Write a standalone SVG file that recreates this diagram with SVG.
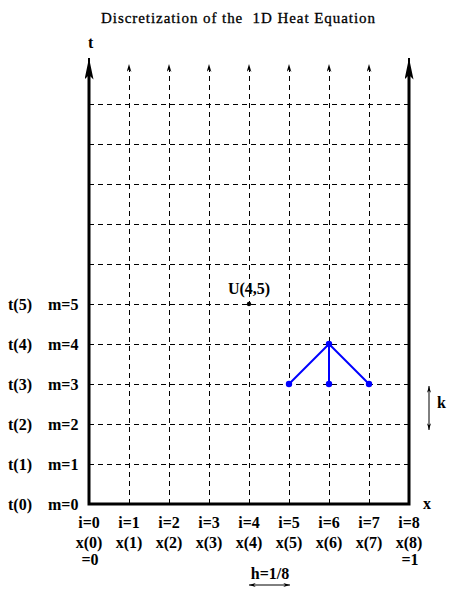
<svg xmlns="http://www.w3.org/2000/svg" width="461" height="601" viewBox="0 0 461 601">
<defs>
<style>
text{font-family:"Liberation Serif","Times New Roman",serif;font-weight:bold;font-size:16px;fill:#000}
.dash{stroke:#000;stroke-width:1;stroke-dasharray:5 4;fill:none;shape-rendering:crispEdges}
.axis{stroke:#000;stroke-width:3;fill:none}
.blue{stroke:#0000ff;stroke-width:2;fill:none}
.thin{stroke:#000;stroke-width:1;fill:none}
</style>
<marker id="big" viewBox="0 0 24 10" refX="24" refY="5" markerWidth="22" markerHeight="9" orient="auto" markerUnits="userSpaceOnUse">
<path d="M0,0 L24,5 L0,10 L5,5 Z" fill="#000"/>
</marker>
<marker id="small" viewBox="0 0 10 6" refX="10" refY="3" markerWidth="8" markerHeight="5" orient="auto" markerUnits="userSpaceOnUse">
<path d="M0,0 L10,3 L0,6 L3,3 Z" fill="#000"/>
</marker>
<marker id="tiny" viewBox="0 0 10 6" refX="10" refY="3" markerWidth="7" markerHeight="4" orient="auto" markerUnits="userSpaceOnUse">
<path d="M0,0 L10,3 L0,6 L3,3 Z" fill="#000"/>
</marker>
</defs>
<rect width="461" height="601" fill="#fff"/>
<text x="238" y="23" text-anchor="middle" xml:space="preserve" style="font-weight:normal;font-size:15px;stroke:#000;stroke-width:0.3" textLength="274">Discretization of the  1D Heat Equation</text>
<g id="connectors">
<g id="grid-h">
<line class="dash" x1="89" y1="464" x2="409" y2="464"/>
<line class="dash" x1="89" y1="424" x2="409" y2="424"/>
<line class="dash" x1="89" y1="384" x2="409" y2="384"/>
<line class="dash" x1="89" y1="344" x2="409" y2="344"/>
<line class="dash" x1="89" y1="304" x2="409" y2="304"/>
<line class="dash" x1="89" y1="264" x2="409" y2="264"/>
<line class="dash" x1="89" y1="224" x2="409" y2="224"/>
<line class="dash" x1="89" y1="184" x2="409" y2="184"/>
<line class="dash" x1="89" y1="144" x2="409" y2="144"/>
<line class="dash" x1="89" y1="104" x2="409" y2="104"/>
</g>
<g id="grid-v">
<line class="dash" x1="129" y1="504" x2="129" y2="64" marker-end="url(#small)"/>
<line class="dash" x1="169" y1="504" x2="169" y2="64" marker-end="url(#small)"/>
<line class="dash" x1="209" y1="504" x2="209" y2="64" marker-end="url(#small)"/>
<line class="dash" x1="249" y1="504" x2="249" y2="64" marker-end="url(#small)"/>
<line class="dash" x1="289" y1="504" x2="289" y2="64" marker-end="url(#small)"/>
<line class="dash" x1="329" y1="504" x2="329" y2="64" marker-end="url(#small)"/>
<line class="dash" x1="369" y1="504" x2="369" y2="64" marker-end="url(#small)"/>
</g>
<g id="axes">
<path class="axis" d="M89,76 L89,504 L409,504 L409,76"/>
<line x1="89" y1="90" x2="89" y2="58" stroke="#000" stroke-width="2" marker-end="url(#big)"/>
<line x1="409" y1="90" x2="409" y2="58" stroke="#000" stroke-width="2" marker-end="url(#big)"/>
</g>
<g id="stencil">
<line class="blue" x1="329" y1="344" x2="289" y2="384"/>
<line class="blue" x1="329" y1="344" x2="329" y2="384"/>
<line class="blue" x1="329" y1="344" x2="369" y2="384"/>
</g>
<g id="k-arrow">
<line class="thin" x1="429" y1="408" x2="429" y2="386" marker-end="url(#tiny)"/>
<line class="thin" x1="429" y1="408" x2="429" y2="430" marker-end="url(#tiny)"/>
</g>
<g id="h-arrow">
<line class="thin" x1="269" y1="585" x2="249" y2="585" marker-end="url(#tiny)"/>
<line class="thin" x1="269" y1="585" x2="290" y2="585" marker-end="url(#tiny)"/>
</g>
</g>
<g id="node-U45">
<circle cx="249" cy="304" r="2.2" fill="#000"/>
<text x="249" y="294" text-anchor="middle">U(4,5)</text>
</g>
<g id="node-stencil-points" fill="#0000ff">
<circle cx="329" cy="344" r="3.2"/>
<circle cx="289" cy="384" r="3.2"/>
<circle cx="329" cy="384" r="3.2"/>
<circle cx="369" cy="384" r="3.2"/>
</g>
<g id="labels-axes">
<text x="88" y="48">t</text>
<text x="423" y="509">x</text>
<text x="437" y="408">k</text>
<text x="270" y="579" text-anchor="middle">h=1/8</text>
</g>
<g id="labels-t">
<text x="8" y="310">t(5)</text><text x="48" y="310">m=5</text>
<text x="8" y="350">t(4)</text><text x="48" y="350">m=4</text>
<text x="8" y="390">t(3)</text><text x="48" y="390">m=3</text>
<text x="8" y="430">t(2)</text><text x="48" y="430">m=2</text>
<text x="8" y="470">t(1)</text><text x="48" y="470">m=1</text>
<text x="8" y="510">t(0)</text><text x="48" y="510">m=0</text>
</g>
<g id="labels-i" text-anchor="middle">
<text x="89" y="528">i=0</text><text x="129" y="528">i=1</text><text x="169" y="528">i=2</text>
<text x="209" y="528">i=3</text><text x="249" y="528">i=4</text><text x="289" y="528">i=5</text>
<text x="329" y="528">i=6</text><text x="369" y="528">i=7</text><text x="409" y="528">i=8</text>
</g>
<g id="labels-x" text-anchor="middle">
<text x="89" y="548">x(0)</text><text x="129" y="548">x(1)</text><text x="169" y="548">x(2)</text>
<text x="209" y="548">x(3)</text><text x="249" y="548">x(4)</text><text x="289" y="548">x(5)</text>
<text x="329" y="548">x(6)</text><text x="369" y="548">x(7)</text><text x="409" y="548">x(8)</text>
<text x="90" y="565">=0</text><text x="410" y="565">=1</text>
</g>
</svg>
